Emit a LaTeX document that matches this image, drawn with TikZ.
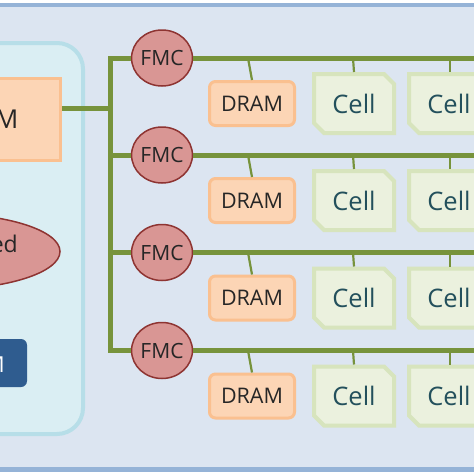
\documentclass[tikz,border=0pt]{standalone}
\usepackage{fontspec}
\setmainfont{Open Sans}
\usetikzlibrary{shapes.misc,shapes.geometric}
\definecolor{bgc}{HTML}{DCE5F1}
\definecolor{framec}{HTML}{95B3D7}
\definecolor{panelf}{HTML}{DAEEF3}
\definecolor{paneld}{HTML}{B7DEE8}
\definecolor{orf}{HTML}{FCD5B5}
\definecolor{ord}{HTML}{FAC090}
\definecolor{fmcf}{HTML}{D99694}
\definecolor{fmcd}{HTML}{8E3432}
\definecolor{busc}{HTML}{77933C}
\definecolor{cellf}{HTML}{EBF1DE}
\definecolor{celld}{HTML}{D7E4BD}
\definecolor{cellt}{HTML}{23505C}
\definecolor{bluec}{HTML}{2F5C8F}
\tikzset{
  fmcnode/.style={ellipse,draw=fmcd,fill=fmcf,line width=1.5pt,minimum width=58pt,minimum height=56pt,inner sep=0pt,font=\fontsize{21}{21}\selectfont,text=black!85},
  dramnode/.style={rectangle,rounded corners=6pt,draw=ord,fill=orf,line width=3pt,minimum width=85pt,minimum height=44pt,inner sep=0pt,font=\fontsize{21.5}{21.5}\selectfont,text=black!85},
  cellnode/.style={chamfered rectangle,chamfered rectangle corners={north east,south west},chamfered rectangle xsep=5pt,chamfered rectangle ysep=5pt,draw=celld,fill=cellf,line width=4pt,minimum width=80pt,minimum height=59pt,inner sep=0pt,font=\fontsize{25.5}{25.5}\selectfont,text=cellt},
  busline/.style={draw=busc,line width=5pt},
  twig/.style={draw=busc,line width=2.2pt},
}
\begin{document}
\begin{tikzpicture}[x=1pt,y=-1pt]
\useasboundingbox (0,0) rectangle (474,474);
% frame
\fill[white] (0,0) rectangle (474,474);
\draw[fill=bgc,draw=framec,line width=4.5pt] (-10,5) rectangle (484,469.5);
% left panel
\draw[fill=panelf,draw=paneld,line width=4pt,rounded corners=26pt] (-60,43) rectangle (83,434);
% orange box
\node[rectangle,draw=ord,fill=orf,line width=3pt,minimum width=97pt,minimum height=82pt,inner sep=0pt] (mem) at (12,119.5) {};
\node[anchor=base east,inner sep=0pt,font=\fontsize{26}{26}\selectfont,text=black!85] (memt) at (18.5,128.5) {M};
% ellipse
\node[ellipse,draw=fmcd,fill=fmcf,line width=1.5pt,minimum width=238pt,minimum height=76pt,inner sep=0pt] (shr) at (-59,251.5) {};
\node[anchor=base east,inner sep=0pt,font=\fontsize{23}{23}\selectfont,text=black!85] (shrt) at (18,252.5) {ed};
% blue box
\node[rectangle,rounded corners=6pt,fill=bluec,minimum width=70pt,minimum height=48pt,inner sep=0pt] (blu) at (-8,363) {};
\node[anchor=base east,inner sep=0pt,font=\fontsize{22}{22}\selectfont,text=white] (blut) at (5,372) {M};
% bus
\coordinate (jn) at (110,108);
\coordinate (btop) at (110,58);
\coordinate (bbot) at (110,350.5);
\draw[busline] (jn -| mem.east) -- (jn);
\draw[busline,line cap=rect] (btop) -- (bbot);
\foreach \i/\y in {1/58,2/155,3/252.5,4/350.5}{
  \node[fmcnode] (fmc\i) at (162,\y) {FMC};
  \coordinate (bl\i) at (110,\y);
  \coordinate (end\i) at (480,\y);
  \coordinate (dj\i) at (248,\y);
  \coordinate (c1j\i) at (353,\y);
  \coordinate (c2j\i) at (450,\y);
  \node[cellnode] (cellA\i) at (354,\y+45.5) {Cell};
  \node[cellnode] (cellB\i) at (449,\y+45.5) {Cell};
  \node[dramnode] (dram\i) at (252,\y+45.5) {DRAM};
  \draw[busline] (bl\i) -- (fmc\i.west);
  \draw[busline] (fmc\i.east) -- (end\i);
  \draw[twig] (dj\i) -- (dram\i.north);
  \draw[twig] (c1j\i) -- (cellA\i.north);
  \draw[twig] (c2j\i) -- (cellB\i.north -| c2j\i);
}
\end{tikzpicture}
\end{document}
